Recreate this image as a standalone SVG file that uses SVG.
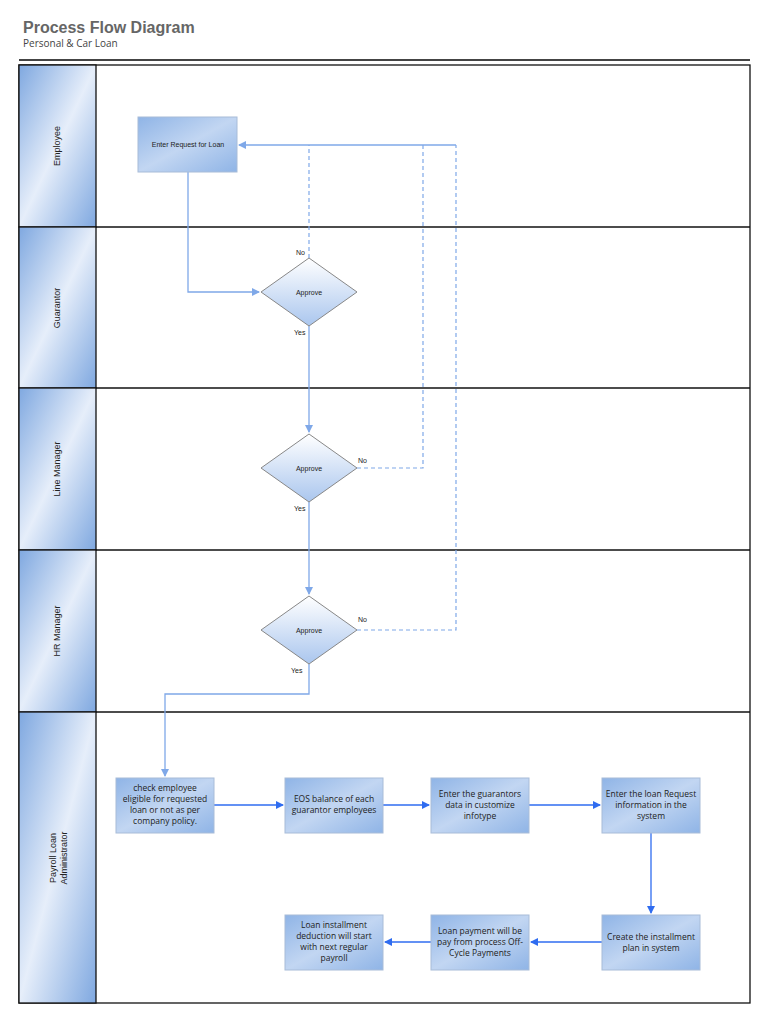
<svg xmlns="http://www.w3.org/2000/svg" width="768" height="1024" viewBox="0 0 768 1024">
<defs>
<linearGradient id="hdr" x1="0" y1="0" x2="1" y2="1"><stop offset="0" stop-color="#7fa8e0"/><stop offset="0.5" stop-color="#e6eefa"/><stop offset="1" stop-color="#7fa8e0"/></linearGradient>
<linearGradient id="box" x1="0" y1="0" x2="1" y2="1"><stop offset="0" stop-color="#8fb4e6"/><stop offset="0.5" stop-color="#c2d6f2"/><stop offset="1" stop-color="#8fb4e6"/></linearGradient>
<linearGradient id="dia" x1="0" y1="0" x2="0" y2="1"><stop offset="0" stop-color="#ffffff"/><stop offset="1" stop-color="#aac6ee"/></linearGradient>
<marker id="al" markerWidth="8" markerHeight="8" refX="7" refY="4" orient="auto" markerUnits="userSpaceOnUse"><path d="M0,0 L8,4 L0,8 z" fill="#7fa8e8"/></marker>
<marker id="ab" markerWidth="8" markerHeight="8" refX="7" refY="4" orient="auto" markerUnits="userSpaceOnUse"><path d="M0,0 L8,4 L0,8 z" fill="#2f6cf0"/></marker>
</defs>
<style>
.lane{fill:none;stroke:#111;stroke-width:1.3}
.hd{fill:url(#hdr);stroke:#111;stroke-width:1.3}
.ht{font-family:"Liberation Sans",Arial,sans-serif;font-size:9px;fill:#222;text-anchor:middle}
.bx{fill:url(#box);stroke:#a8bcd8;stroke-width:1}
.dm{fill:url(#dia);stroke:#888;stroke-width:1}
.t{font-family:"Open Sans","Liberation Sans",sans-serif;font-size:8.5px;fill:#222;text-anchor:middle}
.s{font-family:"Liberation Sans",Arial,sans-serif;font-size:7px;fill:#222;text-anchor:middle}
.l{font-family:"Liberation Sans",Arial,sans-serif;font-size:7px;fill:#222}
.c{fill:none;stroke:#7fa8e8;stroke-width:1.3}
.d{fill:none;stroke:#7fa8e8;stroke-width:1.2;stroke-dasharray:4,3}
.b{fill:none;stroke:#2f6cf0;stroke-width:1.3}
</style>
<text x="23" y="33" font-family="Liberation Sans,Arial,sans-serif" font-size="16" font-weight="bold" fill="#666">Process Flow Diagram</text>
<text x="23" y="47" font-family="Open Sans,Liberation Sans,sans-serif" font-size="10" fill="#444">Personal &amp; Car Loan</text>
<line x1="19" y1="60" x2="750" y2="60" stroke="#444" stroke-width="2"/>
<g id="lanes">
<rect class="lane" x="19" y="65" width="731" height="938"/>
<g id="lane-employee"><rect class="hd" x="19" y="65" width="77" height="162"/><text class="ht" transform="translate(60,146) rotate(-90)">Employee</text></g>
<g id="lane-guarantor"><rect class="hd" x="19" y="227" width="77" height="161"/><text class="ht" transform="translate(60,308) rotate(-90)">Guarantor</text></g>
<g id="lane-lm"><rect class="hd" x="19" y="388" width="77" height="162"/><text class="ht" transform="translate(60,469) rotate(-90)">Line Manager</text></g>
<g id="lane-hr"><rect class="hd" x="19" y="550" width="77" height="162"/><text class="ht" transform="translate(60,631) rotate(-90)">HR Manager</text></g>
<g id="lane-pla"><rect class="hd" x="19" y="712" width="77" height="291"/><text class="ht" transform="translate(56,858) rotate(-90)">Payroll Loan</text><text class="ht" transform="translate(67,858) rotate(-90)">Administrator</text></g>
<line class="lane" x1="96" y1="227" x2="750" y2="227"/>
<line class="lane" x1="96" y1="388" x2="750" y2="388"/>
<line class="lane" x1="96" y1="550" x2="750" y2="550"/>
<line class="lane" x1="96" y1="712" x2="750" y2="712"/>
</g>
<g id="connectors">
<path class="c" d="M188,172 V292 H259" marker-end="url(#al)"/>
<path class="c" d="M456,145 H239" marker-end="url(#al)"/>
<path class="d" d="M309,258 V145"/>
<path class="d" d="M357,468 H423 V145"/>
<path class="d" d="M357,630 H456 V145"/>
<path class="c" d="M309,326 V432" marker-end="url(#al)"/>
<path class="c" d="M309,502 V594" marker-end="url(#al)"/>
<path class="c" d="M309,664 V694 H165 V776" marker-end="url(#al)"/>
<path class="b" d="M214,805 H283" marker-end="url(#ab)"/>
<path class="b" d="M383,805 H429" marker-end="url(#ab)"/>
<path class="b" d="M529,805 H600" marker-end="url(#ab)"/>
<path class="b" d="M651,833 V913" marker-end="url(#ab)"/>
<path class="b" d="M602,942 H531" marker-end="url(#ab)"/>
<path class="b" d="M431,942 H385" marker-end="url(#ab)"/>
<text class="l" x="296" y="255">No</text>
<text class="l" x="294" y="335">Yes</text>
<text class="l" x="358" y="463">No</text>
<text class="l" x="294" y="511">Yes</text>
<text class="l" x="358" y="622">No</text>
<text class="l" x="291" y="673">Yes</text>
</g>
<g id="n-enter"><rect class="bx" x="138" y="117" width="99" height="55"/><text class="s" x="188" y="147">Enter Request for Loan</text></g>
<g id="n-d1"><polygon class="dm" points="309,258 357,292 309,326 261,292"/><text class="s" x="309" y="295">Approve</text></g>
<g id="n-d2"><polygon class="dm" points="309,434 357,468 309,502 261,468"/><text class="s" x="309" y="471">Approve</text></g>
<g id="n-d3"><polygon class="dm" points="309,596 357,630 309,664 261,630"/><text class="s" x="309" y="633">Approve</text></g>
<g id="n-check"><rect class="bx" x="116" y="778" width="98" height="55"/><text class="t" x="165" y="791">check employee</text><text class="t" x="165" y="802">eligible for requested</text><text class="t" x="165" y="813">loan or not as per</text><text class="t" x="165" y="824">company policy.</text></g>
<g id="n-eos"><rect class="bx" x="285" y="778" width="98" height="55"/><text class="t" x="334" y="802">EOS balance of each</text><text class="t" x="334" y="813">guarantor employees</text></g>
<g id="n-guar"><rect class="bx" x="431" y="778" width="98" height="55"/><text class="t" x="480" y="797">Enter the guarantors</text><text class="t" x="480" y="808">data in customize</text><text class="t" x="480" y="819">infotype</text></g>
<g id="n-req"><rect class="bx" x="602" y="778" width="98" height="55"/><text class="t" x="651" y="797">Enter the loan Request</text><text class="t" x="651" y="808">information in the</text><text class="t" x="651" y="819">system</text></g>
<g id="n-plan"><rect class="bx" x="602" y="915" width="98" height="55"/><text class="t" x="651" y="940">Create the installment</text><text class="t" x="651" y="951">plan in system</text></g>
<g id="n-pay"><rect class="bx" x="431" y="915" width="98" height="55"/><text class="t" x="480" y="934">Loan payment will be</text><text class="t" x="480" y="945">pay from process Off-</text><text class="t" x="480" y="956">Cycle Payments</text></g>
<g id="n-ded"><rect class="bx" x="285" y="915" width="98" height="55"/><text class="t" x="334" y="928">Loan installment</text><text class="t" x="334" y="939">deduction will start</text><text class="t" x="334" y="950">with next regular</text><text class="t" x="334" y="961">payroll</text></g>
</svg>
